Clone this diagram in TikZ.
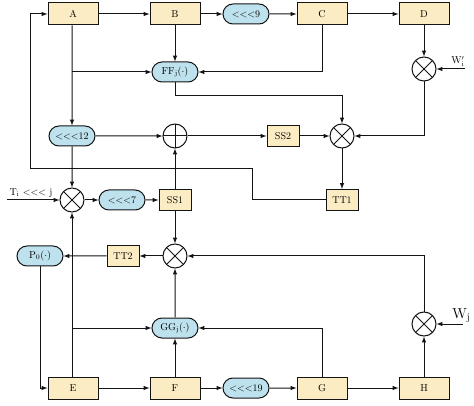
\documentclass[tikz,border=0pt]{standalone}
\usepackage{amsmath}
\usepackage{tikz}
\usetikzlibrary{arrows,shapes.misc,calc}
\definecolor{boxfill}{RGB}{252,236,196}
\definecolor{rotfill}{RGB}{190,225,238}
\definecolor{linecol}{RGB}{20,20,20}

\begin{document}
\begin{tikzpicture}[x=1pt,y=-1pt,>=latex,line width=1pt,draw=linecol,
  reg/.style={draw,fill=boxfill,minimum width=50pt,minimum height=22pt,inner sep=0pt},
  sreg/.style={draw,fill=boxfill,minimum width=32pt,minimum height=21pt,inner sep=0pt},
  rot/.style={draw,fill=rotfill,rounded rectangle,minimum width=46pt,minimum height=20pt,inner sep=0pt},
  mul/.style={draw,circle,minimum size=24pt,inner sep=0pt,
    path picture={\draw (path picture bounding box.north west) -- (path picture bounding box.south east)
                        (path picture bounding box.north east) -- (path picture bounding box.south west);}},
  xor/.style={draw,circle,minimum size=24pt,inner sep=0pt,
    path picture={\draw (path picture bounding box.north) -- (path picture bounding box.south)
                        (path picture bounding box.west) -- (path picture bounding box.east);}}]
          \useasboundingbox (0,0) rectangle (474,406);

          % top row
          \node[reg] (A) at (73,14) {A};
          \node[reg] (B) at (175,14) {B};
          \node[rot] (r9) at (246,14) {{<}{<}{<}9};
          \node[reg] (C) at (322,14) {C};
          \node[reg] (D) at (424,14) {D};

          \node[rot] (FF) at (175,72) {FF$_{\mathrm{j}}(\cdot)$};
          \node[mul] (mD) at (424,69) {};

          \node[rot] (r12) at (72,136) {{<}{<}{<}12};
          \node[xor] (x1) at (175,136) {};
          \node[sreg] (SS2) at (283,136) {SS2};
          \node[mul] (m2) at (342,136) {};

          \node[mul] (m1) at (72,200) {};
          \node[rot] (r7) at (122,200) {{<}{<}{<}7};
          \node[sreg] (SS1) at (175,200) {SS1};
          \node[sreg] (TT1) at (342,200) {TT1};

          \node[rot] (P0) at (40,256) {P$_0(\cdot)$};
          \node[sreg] (TT2) at (123,256) {TT2};
          \node[mul] (m3) at (175,256) {};

          \node[rot] (GG) at (175,328) {GG$_{\mathrm{j}}(\cdot)$};
          \node[mul] (m4) at (424,324) {};

          % bottom row
          \node[reg] (E) at (73,388) {E};
          \node[reg] (F) at (175,388) {F};
          \node[rot] (r19) at (246,388) {{<}{<}{<}19};
          \node[reg] (G) at (322,388) {G};
          \node[reg] (H) at (424,388) {H};

          % inputs
          \coordinate (Wi) at (465,69);
          \coordinate (Wj) at (463,324);
          \coordinate (Ti) at (7,200);
          \node[anchor=south east,inner sep=1pt] at ($(Wi)+(1,-1)$) {W$'_{\mathrm{i}}$};
          \node[anchor=south east,font=\Large,inner sep=1pt] at ($(Wj)+(9,0)$) {W$_{\mathrm{j}}$};
          \node[anchor=south west,inner sep=1pt] at ($(Ti)+(1,-1)$) {T$_{\mathrm{i}}$ {<}{<}{<} j};

          % upper part
          \draw[->] (A) -- (B);
          \draw[->] (B) -- (r9);
          \draw[->] (r9) -- (C);
          \draw[->] (C) -- (D);
          \draw[->] (B) -- (FF);
          \draw[->] (A.south -| r12) -- (r12);
          \draw[->] (r12.north |- FF) -- (FF.west);
          \draw[->] (C.south) |- (FF.east);
          \draw[->] (FF.south) |- (m2.north |- 0,96) -- (m2.north);
          \draw[->] (D) -- (mD);
          \draw[->] (Wi) -- (mD.east);
          \draw[->] (mD.south) |- (m2.east);
          \draw[->] (r12) -- (x1);
          \draw[->] (x1) -- (SS2);
          \draw[->] (SS2) -- (m2);
          \draw[->] (m2) -- (TT1);
          \draw[->] (TT1.west) -| (252,169) -- (30,169) |- (A.west);

          % middle part
          \draw[->] (r12) -- (m1);
          \draw[->] (Ti) -- (m1.west);
          \draw[->] (m1) -- (r7);
          \draw[->] (r7) -- (SS1);
          \draw[->] (SS1) -- (x1);
          \draw[->] (SS1) -- (m3);
          \draw[->] (m3) -- (TT2);
          \draw[->] (TT2) -- (P0);
          \draw[->] (P0.south) |- (E.west);

          % lower part
          \draw[->] (E.north -| m1) -- (m1);
          \draw[->] (m1 |- GG) -- (GG.west);
          \draw[->] (E) -- (F);
          \draw[->] (F) -- (r19);
          \draw[->] (r19) -- (G);
          \draw[->] (G) -- (H);
          \draw[->] (F) -- (GG);
          \draw[->] (GG) -- (m3);
          \draw[->] (G.north) |- (GG.east);
          \draw[->] (H) -- (m4);
          \draw[->] (Wj) -- (m4.east);
          \draw[->] (m4.north) |- (m3.east);
\end{tikzpicture}
\end{document}
